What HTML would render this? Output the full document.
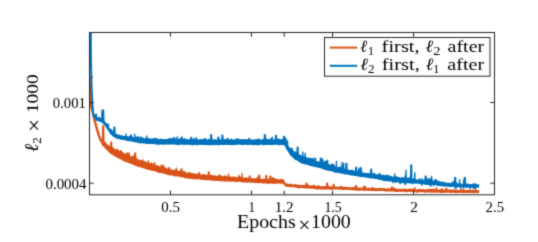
<!DOCTYPE html>
<html><head><meta charset="utf-8"><style>
html,body{margin:0;padding:0;background:#fff;}
svg{display:block;}
text{font-family:'Liberation Serif', 'DejaVu Serif', serif;fill:#000;}
</style></head><body>
<svg width="538" height="242" viewBox="0 0 538 242">
<defs><filter id="bl" x="0" y="0" width="538" height="242" filterUnits="userSpaceOnUse" color-interpolation-filters="sRGB"><feConvolveMatrix order="3" kernelMatrix="0.03 0.1 0.03 0.1 0.48 0.1 0.03 0.1 0.03" edgeMode="duplicate"/></filter></defs>
<g filter="url(#bl)">
<rect width="538" height="242" fill="#fff"/>
<defs><clipPath id="c"><rect x="89.5" y="32.5" width="405.0" height="162.3"/></clipPath></defs>
<g clip-path="url(#c)" fill="none" stroke-linejoin="round" stroke-linecap="butt">
<path d="M92.60,75.80 L90.30,78.00 L90.40,100.00 L91.20,106.00 L92.50,111.50 L94.00,118.00 L95.60,124.00 L97.00,129.20 L98.50,134.30 L100.00,138.60 L101.50,141.40 L103.00,143.40" stroke="#D95319" stroke-width="2.4"/>
<path d="M102.00,139.77 L102.40,144.96 L102.80,125.65 L103.20,145.75 L103.60,125.85 L104.00,146.34 L104.40,141.72 L104.80,147.23 L105.20,142.46 L105.60,148.13 L106.00,143.43 L106.40,148.88 L106.80,144.28 L107.20,149.62 L107.60,145.32 L108.00,150.57 L108.40,145.93 L108.80,151.49 L109.20,146.37 L109.60,152.28 L110.00,147.40 L110.40,152.82 L110.80,142.30 L111.20,153.38 L111.60,141.92 L112.00,154.03 L112.40,147.49 L112.80,154.52 L113.20,148.23 L113.60,154.94 L114.00,149.27 L114.40,155.35 L114.80,149.65 L115.20,155.92 L115.60,149.93 L116.00,156.34 L116.40,149.98 L116.80,156.77 L117.20,149.14 L117.60,157.31 L118.00,150.26 L118.40,157.72 L118.80,151.36 L119.20,158.07 L119.60,151.97 L120.00,158.47 L120.40,150.36 L120.80,158.78 L121.20,150.80 L121.60,159.22 L122.00,152.30 L122.40,159.74 L122.80,152.88 L123.20,160.09 L123.60,153.92 L124.00,160.56 L124.40,153.62 L124.80,161.05 L125.20,153.80 L125.60,161.25 L126.00,154.98 L126.40,161.34 L126.80,153.44 L127.20,161.81 L127.60,152.82 L128.00,162.20 L128.40,154.83 L128.80,162.45 L129.20,152.96 L129.60,162.78 L130.00,156.19 L130.40,163.02 L130.80,156.85 L131.20,163.40 L131.60,156.75 L132.00,163.70 L132.40,156.56 L132.80,163.88 L133.20,157.06 L133.60,164.31 L134.00,155.61 L134.40,164.83 L134.80,153.06 L135.20,165.15 L135.60,152.80 L136.00,165.35 L136.40,158.51 L136.80,165.76 L137.20,159.44 L137.60,166.02 L138.00,159.84 L138.40,166.07 L138.80,160.02 L139.20,166.21 L139.60,160.40 L140.00,166.56 L140.40,160.93 L140.80,166.86 L141.20,160.66 L141.60,167.02 L142.00,160.61 L142.40,167.24 L142.80,159.68 L143.20,167.47 L143.60,161.56 L144.00,167.87 L144.40,162.30 L144.80,168.22 L145.20,161.55 L145.60,168.38 L146.00,162.59 L146.40,168.66 L146.80,162.91 L147.20,169.03 L147.60,163.17 L148.00,169.32 L148.40,160.60 L148.80,169.37 L149.20,163.47 L149.60,169.43 L150.00,163.65 L150.40,169.67 L150.80,164.00 L151.20,169.94 L151.60,162.85 L152.00,170.09 L152.40,164.69 L152.80,170.30 L153.20,163.96 L153.60,170.43 L154.00,164.05 L154.40,170.58 L154.80,162.58 L155.20,170.66 L155.60,165.78 L156.00,171.00 L156.40,165.69 L156.80,171.38 L157.20,165.84 L157.60,171.79 L158.00,165.82 L158.40,172.20 L158.80,166.65 L159.20,172.25 L159.60,166.95 L160.00,172.35 L160.40,166.96 L160.80,172.44 L161.20,165.05 L161.60,172.38 L162.00,165.05 L162.40,172.51 L162.80,167.53 L163.20,172.77 L163.60,165.05 L164.00,173.11 L164.40,167.77 L164.80,173.32 L165.20,167.79 L165.60,173.53 L166.00,168.46 L166.40,173.84 L166.80,169.06 L167.20,174.19 L167.60,169.17 L168.00,174.47 L168.40,167.65 L168.80,174.67 L169.20,167.65 L169.60,174.67 L170.00,168.90 L170.40,174.75 L170.80,169.96 L171.20,174.78 L171.60,170.16 L172.00,174.75 L172.40,170.17 L172.80,174.88 L173.20,170.43 L173.60,175.42 L174.00,170.66 L174.40,175.72 L174.80,170.45 L175.20,175.81 L175.60,169.61 L176.00,175.88 L176.40,168.25 L176.80,175.78 L177.20,170.97 L177.60,175.71 L178.00,171.06 L178.40,175.85 L178.80,171.33 L179.20,176.18 L179.60,171.23 L180.00,176.44 L180.40,171.31 L180.80,176.54 L181.20,168.86 L181.60,176.64 L182.00,168.94 L182.40,176.75 L182.80,172.32 L183.20,176.81 L183.60,171.66 L184.00,177.15 L184.40,171.41 L184.80,177.55 L185.20,172.28 L185.60,177.73 L186.00,173.22 L186.40,177.72 L186.80,173.46 L187.20,177.77 L187.60,173.45 L188.00,178.07 L188.40,172.88 L188.80,178.05 L189.20,172.75 L189.60,177.97 L190.00,173.17 L190.40,178.18 L190.80,173.18 L191.20,178.22 L191.60,173.67 L192.00,178.31 L192.40,173.91 L192.80,178.44 L193.20,173.61 L193.60,178.64 L194.00,173.88 L194.40,178.80 L194.80,174.14 L195.20,178.78 L195.60,174.05 L196.00,178.64 L196.40,174.40 L196.80,178.61 L197.20,174.19 L197.60,178.79 L198.00,174.55 L198.40,178.89 L198.80,172.95 L199.20,178.72 L199.60,172.95 L200.00,178.78 L200.40,174.94 L200.80,179.03 L201.20,175.07 L201.60,179.18 L202.00,174.99 L202.40,179.16 L202.80,174.58 L203.20,179.22 L203.60,174.75 L204.00,179.40 L204.40,175.04 L204.80,179.63 L205.20,174.91 L205.60,179.60 L206.00,175.15 L206.40,179.43 L206.80,175.50 L207.20,179.55 L207.60,175.30 L208.00,179.63 L208.40,171.88 L208.80,179.61 L209.20,172.33 L209.60,179.65 L210.00,175.46 L210.40,179.90 L210.80,175.68 L211.20,179.97 L211.60,175.66 L212.00,180.10 L212.40,175.20 L212.80,180.14 L213.20,176.15 L213.60,180.07 L214.00,175.91 L214.40,180.05 L214.80,176.04 L215.20,180.17 L215.60,176.00 L216.00,180.36 L216.40,176.33 L216.80,180.40 L217.20,176.36 L217.60,180.42 L218.00,176.44 L218.40,180.40 L218.80,175.39 L219.20,180.49 L219.60,175.81 L220.00,180.57 L220.40,174.86 L220.80,180.62 L221.20,176.72 L221.60,180.52 L222.00,176.74 L222.40,180.47 L222.80,176.78 L223.20,180.60 L223.60,176.67 L224.00,180.96 L224.40,175.90 L224.80,180.97 L225.20,176.09 L225.60,180.83 L226.00,176.50 L226.40,180.87 L226.80,177.05 L227.20,180.92 L227.60,176.81 L228.00,180.90 L228.40,173.83 L228.80,180.87 L229.20,176.80 L229.60,181.03 L230.00,177.26 L230.40,181.06 L230.80,177.07 L231.20,180.89 L231.60,177.49 L232.00,180.86 L232.40,177.58 L232.80,180.95 L233.20,176.85 L233.60,180.99 L234.00,177.11 L234.40,181.10 L234.80,177.50 L235.20,181.28 L235.60,177.72 L236.00,181.37 L236.40,177.76 L236.80,181.19 L237.20,177.84 L237.60,181.24 L238.00,177.82 L238.40,181.28 L238.80,175.23 L239.20,181.10 L239.60,177.01 L240.00,181.23 L240.40,177.43 L240.80,181.47 L241.20,177.99 L241.60,181.59 L242.00,173.46 L242.40,181.70 L242.80,177.82 L243.20,181.83 L243.60,178.20 L244.00,181.90 L244.40,178.19 L244.80,181.79 L245.20,177.92 L245.60,181.73 L246.00,178.16 L246.40,181.85 L246.80,178.28 L247.20,182.02 L247.60,178.13 L248.00,181.99 L248.40,178.62 L248.80,181.89 L249.20,176.25 L249.60,181.91 L250.00,176.02 L250.40,182.10 L250.80,178.57 L251.20,182.05 L251.60,178.54 L252.00,182.06 L252.40,178.60 L252.80,182.11 L253.20,178.82 L253.60,182.00 L254.00,178.97 L254.40,182.23 L254.80,178.97 L255.20,182.51 L255.60,179.02 L256.00,182.40 L256.40,179.03 L256.80,182.26 L257.20,177.51 L257.60,182.50 L258.00,178.77 L258.40,182.67 L258.80,174.93 L259.20,182.70 L259.60,175.52 L260.00,182.45 L260.40,179.00 L260.80,182.32 L261.20,179.38 L261.60,182.65 L262.00,179.54 L262.40,182.94 L262.80,179.28 L263.20,182.80 L263.60,179.02 L264.00,182.85 L264.40,179.34 L264.80,182.93 L265.20,179.41 L265.60,182.90 L266.00,175.37 L266.40,182.91 L266.80,175.74 L267.20,183.01 L267.60,179.79 L268.00,183.27 L268.40,179.35 L268.80,183.24 L269.20,179.29 L269.60,182.97 L270.00,176.15 L270.40,182.85 L270.80,176.23 L271.20,182.97 L271.60,178.82 L272.00,183.24 L272.40,177.85 L272.80,183.14 L273.20,177.85 L273.60,183.06 L274.00,178.67 L274.40,183.12 L274.80,178.57 L275.20,183.12 L275.60,179.80 L276.00,183.17 L276.40,179.49 L276.80,183.10 L277.20,179.93 L277.60,182.93 L278.00,179.72 L278.40,182.99 L278.80,179.95 L279.20,182.94 L279.60,179.98 L280.00,183.05 L280.40,179.68 L280.80,183.15 L281.20,179.54 L281.60,183.08 L282.00,179.53 L282.40,183.04 L282.80,179.97 L283.20,183.17 L283.60,180.25 L284.00,183.97 L284.40,181.94 L284.80,184.98 L285.20,183.59 L285.60,185.81 L286.00,183.94 L286.40,185.94 L286.80,184.02 L287.20,186.09 L287.60,184.46 L288.00,186.26 L288.40,184.59 L288.80,186.22 L289.20,184.67 L289.60,186.36 L290.00,184.32 L290.40,186.55 L290.80,184.02 L291.20,186.59 L291.60,184.73 L292.00,186.46 L292.40,185.03 L292.80,186.53 L293.20,184.90 L293.60,186.67 L294.00,184.94 L294.40,186.74 L294.80,184.80 L295.20,186.86 L295.60,184.73 L296.00,187.08 L296.40,185.28 L296.80,187.27 L297.20,185.03 L297.60,187.32 L298.00,185.28 L298.40,187.55 L298.80,185.28 L299.20,187.65 L299.60,185.53 L300.00,187.64 L300.40,185.49 L300.80,187.51 L301.20,185.44 L301.60,187.29 L302.00,185.71 L302.40,187.44 L302.80,185.67 L303.20,187.54 L303.60,185.50 L304.00,187.74 L304.40,185.60 L304.80,187.69 L305.20,185.59 L305.60,187.70 L306.00,183.05 L306.40,187.89 L306.80,183.05 L307.20,187.99 L307.60,184.87 L308.00,187.72 L308.40,185.67 L308.80,187.84 L309.20,186.06 L309.60,188.12 L310.00,185.94 L310.40,188.12 L310.80,185.86 L311.20,187.99 L311.60,186.10 L312.00,188.08 L312.40,185.84 L312.80,188.19 L313.20,186.24 L313.60,188.18 L314.00,185.05 L314.40,188.31 L314.80,186.25 L315.20,188.48 L315.60,186.44 L316.00,188.55 L316.40,186.46 L316.80,188.80 L317.20,186.21 L317.60,188.77 L318.00,186.22 L318.40,188.57 L318.80,185.91 L319.20,188.65 L319.60,186.36 L320.00,188.82 L320.40,186.66 L320.80,188.80 L321.20,186.87 L321.60,188.86 L322.00,186.81 L322.40,188.84 L322.80,186.71 L323.20,188.72 L323.60,186.95 L324.00,188.96 L324.40,186.68 L324.80,188.97 L325.20,186.83 L325.60,188.78 L326.00,186.61 L326.40,188.82 L326.80,183.25 L327.20,188.87 L327.60,183.25 L328.00,188.87 L328.40,186.42 L328.80,188.82 L329.20,186.56 L329.60,188.91 L330.00,186.89 L330.40,188.99 L330.80,186.94 L331.20,189.11 L331.60,187.03 L332.00,189.09 L332.40,187.05 L332.80,188.99 L333.20,184.45 L333.60,188.91 L334.00,184.45 L334.40,188.92 L334.80,187.15 L335.20,188.85 L335.60,187.22 L336.00,188.77 L336.40,187.33 L336.80,188.80 L337.20,187.17 L337.60,188.91 L338.00,187.08 L338.40,188.89 L338.80,187.06 L339.20,189.06 L339.60,187.41 L340.00,189.14 L340.40,186.45 L340.80,189.11 L341.20,186.45 L341.60,189.20 L342.00,187.28 L342.40,189.15 L342.80,187.09 L343.20,189.33 L343.60,187.13 L344.00,189.39 L344.40,187.20 L344.80,189.20 L345.20,187.49 L345.60,189.15 L346.00,187.60 L346.40,189.16 L346.80,187.29 L347.20,189.26 L347.60,187.69 L348.00,189.34 L348.40,187.58 L348.80,189.25 L349.20,187.82 L349.60,189.27 L350.00,187.84 L350.40,189.31 L350.80,187.76 L351.20,189.51 L351.60,187.94 L352.00,189.63 L352.40,188.00 L352.80,189.58 L353.20,187.31 L353.60,189.60 L354.00,187.35 L354.40,189.75 L354.80,188.08 L355.20,189.88 L355.60,185.55 L356.00,190.10 L356.40,185.55 L356.80,190.17 L357.20,188.05 L357.60,190.17 L358.00,188.16 L358.40,190.15 L358.80,187.77 L359.20,190.23 L359.60,188.18 L360.00,190.20 L360.40,188.25 L360.80,190.04 L361.20,188.29 L361.60,189.94 L362.00,188.28 L362.40,189.82 L362.80,188.15 L363.20,189.96 L363.60,186.45 L364.00,190.27 L364.40,186.45 L364.80,190.40 L365.20,186.45 L365.60,190.12 L366.00,188.54 L366.40,189.96 L366.80,188.46 L367.20,190.01 L367.60,188.26 L368.00,190.21 L368.40,188.27 L368.80,190.25 L369.20,188.51 L369.60,190.13 L370.00,188.66 L370.40,190.16 L370.80,188.36 L371.20,190.42 L371.60,188.07 L372.00,190.43 L372.40,187.51 L372.80,190.42 L373.20,187.93 L373.60,190.43 L374.00,188.82 L374.40,190.43 L374.80,188.58 L375.20,190.50 L375.60,188.31 L376.00,190.50 L376.40,188.76 L376.80,190.47 L377.20,188.85 L377.60,190.43 L378.00,188.72 L378.40,190.30 L378.80,188.54 L379.20,190.31 L379.60,188.35 L380.00,190.49 L380.40,188.66 L380.80,190.40 L381.20,188.86 L381.60,190.22 L382.00,188.67 L382.40,190.17 L382.80,188.75 L383.20,190.27 L383.60,188.53 L384.00,190.56 L384.40,188.64 L384.80,190.73 L385.20,189.01 L385.60,190.81 L386.00,189.00 L386.40,190.87 L386.80,189.12 L387.20,190.90 L387.60,189.14 L388.00,190.90 L388.40,188.96 L388.80,190.82 L389.20,189.27 L389.60,190.79 L390.00,188.97 L390.40,190.73 L390.80,188.95 L391.20,190.81 L391.60,186.95 L392.00,190.89 L392.40,186.95 L392.80,190.86 L393.20,189.14 L393.60,190.97 L394.00,188.19 L394.40,191.21 L394.80,188.34 L395.20,191.25 L395.60,189.12 L396.00,191.26 L396.40,189.39 L396.80,191.36 L397.20,189.30 L397.60,191.42 L398.00,189.33 L398.40,191.26 L398.80,189.37 L399.20,191.17 L399.60,189.54 L400.00,191.22 L400.40,189.40 L400.80,191.26 L401.20,189.52 L401.60,191.18 L402.00,189.55 L402.40,191.14 L402.80,189.31 L403.20,191.05 L403.60,189.10 L404.00,191.16 L404.40,189.16 L404.80,191.49 L405.20,189.48 L405.60,191.65 L406.00,189.44 L406.40,191.60 L406.80,189.48 L407.20,191.46 L407.60,189.59 L408.00,191.35 L408.40,189.71 L408.80,191.23 L409.20,189.29 L409.60,191.20 L410.00,189.26 L410.40,191.32 L410.80,189.15 L411.20,191.46 L411.60,189.45 L412.00,191.45 L412.40,189.23 L412.80,191.21 L413.20,189.23 L413.60,191.04 L414.00,189.69 L414.40,191.30 L414.80,187.65 L415.20,191.58 L415.60,189.71 L416.00,191.83 L416.40,189.85 L416.80,192.04 L417.20,189.80 L417.60,192.00 L418.00,189.91 L418.40,191.72 L418.80,189.69 L419.20,191.52 L419.60,189.48 L420.00,191.60 L420.40,189.73 L420.80,191.73 L421.20,189.90 L421.60,191.67 L422.00,189.76 L422.40,191.62 L422.80,189.90 L423.20,191.51 L423.60,189.77 L424.00,191.70 L424.40,190.01 L424.80,192.15 L425.20,190.05 L425.60,192.20 L426.00,189.81 L426.40,191.88 L426.80,189.69 L427.20,191.67 L427.60,189.79 L428.00,191.88 L428.40,189.97 L428.80,192.12 L429.20,189.44 L429.60,191.95 L430.00,189.27 L430.40,191.91 L430.80,189.61 L431.20,192.20 L431.60,189.05 L432.00,192.14 L432.40,189.84 L432.80,191.98 L433.20,189.66 L433.60,191.98 L434.00,189.02 L434.40,192.10 L434.80,190.20 L435.20,192.02 L435.60,189.90 L436.00,191.98 L436.40,187.65 L436.80,192.03 L437.20,189.72 L437.60,191.99 L438.00,190.05 L438.40,191.96 L438.80,190.23 L439.20,192.23 L439.60,190.31 L440.00,192.44 L440.40,190.00 L440.80,192.43 L441.20,189.92 L441.60,192.39 L442.00,188.65 L442.40,192.38 L442.80,190.12 L443.20,192.30 L443.60,189.90 L444.00,192.19 L444.40,190.10 L444.80,192.06 L445.20,190.15 L445.60,192.03 L446.00,188.44 L446.40,192.07 L446.80,188.32 L447.20,192.07 L447.60,190.19 L448.00,191.94 L448.40,190.39 L448.80,191.92 L449.20,189.90 L449.60,192.11 L450.00,190.01 L450.40,192.33 L450.80,190.42 L451.20,192.45 L451.60,190.24 L452.00,192.22 L452.40,190.24 L452.80,192.12 L453.20,190.23 L453.60,192.21 L454.00,189.82 L454.40,192.37 L454.80,189.89 L455.20,192.34 L455.60,190.50 L456.00,192.41 L456.40,190.37 L456.80,192.44 L457.20,190.34 L457.60,192.26 L458.00,190.37 L458.40,192.49 L458.80,190.51 L459.20,192.42 L459.60,190.55 L460.00,192.20 L460.40,190.37 L460.80,192.17 L461.20,188.60 L461.60,192.45 L462.00,190.65 L462.40,192.55 L462.80,190.65 L463.20,192.46 L463.60,188.65 L464.00,192.31 L464.40,190.58 L464.80,192.43 L465.20,190.61 L465.60,192.51 L466.00,190.36 L466.40,192.36 L466.80,190.52 L467.20,192.31 L467.60,190.55 L468.00,192.43 L468.40,190.34 L468.80,192.46 L469.20,190.13 L469.60,192.55 L470.00,190.48 L470.40,192.36 L470.80,190.57 L471.20,192.16 L471.60,190.66 L472.00,192.26 L472.40,190.11 L472.80,192.42 L473.20,190.40 L473.60,192.51 L474.00,190.48 L474.40,192.49 L474.80,190.61 L475.20,192.39 L475.60,187.82 L476.00,192.30 L476.40,190.69 L476.80,192.36 L477.20,190.55 L477.60,192.47 L478.00,190.60 L478.40,192.43 L478.80,190.44" stroke="#D95319" stroke-width="1.3"/>
<path d="M90.70,20.00 L90.90,60.00 L91.50,85.00 L92.20,100.00 L92.70,108.00 L93.00,112.00 L93.60,115.00 L94.50,117.00 L95.80,118.40" stroke="#0072BD" stroke-width="2"/>
<path d="M95.60,113.85 L96.00,119.79 L96.40,114.15 L96.80,120.20 L97.20,118.04 L97.60,120.45 L98.00,118.00 L98.40,120.71 L98.80,117.49 L99.20,120.90 L99.60,117.74 L100.00,121.13 L100.40,118.61 L100.80,121.48 L101.20,119.06 L101.60,121.94 L102.00,110.05 L102.40,122.15 L102.80,110.05 L103.20,123.06 L103.60,110.05 L104.00,124.14 L104.40,121.35 L104.80,125.05 L105.20,122.65 L105.60,125.99 L106.00,123.63 L106.40,127.22 L106.80,123.56 L107.20,128.52 L107.60,124.69 L108.00,129.68 L108.40,124.22 L108.80,130.70 L109.20,128.76 L109.60,131.97 L110.00,129.97 L110.40,133.23 L110.80,129.24 L111.20,134.00 L111.60,130.08 L112.00,134.74 L112.40,132.40 L112.80,135.64 L113.20,130.97 L113.60,136.32 L114.00,127.05 L114.40,136.64 L114.80,127.05 L115.20,137.08 L115.60,134.43 L116.00,137.66 L116.40,134.49 L116.80,138.07 L117.20,134.65 L117.60,138.20 L118.00,135.29 L118.40,138.35 L118.80,135.44 L119.20,138.44 L119.60,135.21 L120.00,138.85 L120.40,135.58 L120.80,139.08 L121.20,135.80 L121.60,139.01 L122.00,136.12 L122.40,139.22 L122.80,136.26 L123.20,139.45 L123.60,136.37 L124.00,139.65 L124.40,136.59 L124.80,139.55 L125.20,136.44 L125.60,139.59 L126.00,133.92 L126.40,139.96 L126.80,136.66 L127.20,140.41 L127.60,136.72 L128.00,140.61 L128.40,136.93 L128.80,140.64 L129.20,137.20 L129.60,140.63 L130.00,136.41 L130.40,140.63 L130.80,134.81 L131.20,140.74 L131.60,135.11 L132.00,140.84 L132.40,137.65 L132.80,141.17 L133.20,137.67 L133.60,141.42 L134.00,137.91 L134.40,141.48 L134.80,134.03 L135.20,141.52 L135.60,137.90 L136.00,141.74 L136.40,137.96 L136.80,141.89 L137.20,136.65 L137.60,142.14 L138.00,136.65 L138.40,142.47 L138.80,138.23 L139.20,142.69 L139.60,138.19 L140.00,142.80 L140.40,137.05 L140.80,142.88 L141.20,137.05 L141.60,142.70 L142.00,137.83 L142.40,142.69 L142.80,138.19 L143.20,142.79 L143.60,138.62 L144.00,142.76 L144.40,138.78 L144.80,142.81 L145.20,138.49 L145.60,143.05 L146.00,138.62 L146.40,143.27 L146.80,135.85 L147.20,143.29 L147.60,138.95 L148.00,143.28 L148.40,138.75 L148.80,143.36 L149.20,138.63 L149.60,143.45 L150.00,139.21 L150.40,143.38 L150.80,139.04 L151.20,143.38 L151.60,139.09 L152.00,143.49 L152.40,138.97 L152.80,143.36 L153.20,138.94 L153.60,143.24 L154.00,138.88 L154.40,143.55 L154.80,138.35 L155.20,143.71 L155.60,138.35 L156.00,143.76 L156.40,139.51 L156.80,143.98 L157.20,139.02 L157.60,144.19 L158.00,139.06 L158.40,144.24 L158.80,139.55 L159.20,144.04 L159.60,139.55 L160.00,143.87 L160.40,139.39 L160.80,143.81 L161.20,139.18 L161.60,143.96 L162.00,139.64 L162.40,144.11 L162.80,139.77 L163.20,144.01 L163.60,139.61 L164.00,144.05 L164.40,139.73 L164.80,143.91 L165.20,139.68 L165.60,143.74 L166.00,139.29 L166.40,143.88 L166.80,139.65 L167.20,143.91 L167.60,139.71 L168.00,143.98 L168.40,139.42 L168.80,143.92 L169.20,138.35 L169.60,143.79 L170.00,138.35 L170.40,143.87 L170.80,139.37 L171.20,143.90 L171.60,138.92 L172.00,143.95 L172.40,138.47 L172.80,143.97 L173.20,138.85 L173.60,143.91 L174.00,137.55 L174.40,143.86 L174.80,137.55 L175.20,144.01 L175.60,139.59 L176.00,144.22 L176.40,139.09 L176.80,144.29 L177.20,136.67 L177.60,144.43 L178.00,139.63 L178.40,144.39 L178.80,139.21 L179.20,144.20 L179.60,138.99 L180.00,144.07 L180.40,139.13 L180.80,143.98 L181.20,137.33 L181.60,143.91 L182.00,137.01 L182.40,144.14 L182.80,139.18 L183.20,144.30 L183.60,139.55 L184.00,144.17 L184.40,138.35 L184.80,144.19 L185.20,139.52 L185.60,144.35 L186.00,139.90 L186.40,144.20 L186.80,139.68 L187.20,143.92 L187.60,139.70 L188.00,144.05 L188.40,139.97 L188.80,144.22 L189.20,139.92 L189.60,144.29 L190.00,139.56 L190.40,144.26 L190.80,137.50 L191.20,144.25 L191.60,137.49 L192.00,144.48 L192.40,139.69 L192.80,144.65 L193.20,139.77 L193.60,144.55 L194.00,138.18 L194.40,144.27 L194.80,139.92 L195.20,144.28 L195.60,139.59 L196.00,144.33 L196.40,137.55 L196.80,144.37 L197.20,139.61 L197.60,144.52 L198.00,140.03 L198.40,144.53 L198.80,139.87 L199.20,144.28 L199.60,139.94 L200.00,144.07 L200.40,139.63 L200.80,144.22 L201.20,139.64 L201.60,144.37 L202.00,139.86 L202.40,144.37 L202.80,139.61 L203.20,144.33 L203.60,139.80 L204.00,144.30 L204.40,138.65 L204.80,144.34 L205.20,138.65 L205.60,144.29 L206.00,139.35 L206.40,144.33 L206.80,140.14 L207.20,144.40 L207.60,140.05 L208.00,144.55 L208.40,139.41 L208.80,144.59 L209.20,139.52 L209.60,144.49 L210.00,140.01 L210.40,144.54 L210.80,134.65 L211.20,144.55 L211.60,134.65 L212.00,144.37 L212.40,140.01 L212.80,144.45 L213.20,140.02 L213.60,144.62 L214.00,139.79 L214.40,144.64 L214.80,139.95 L215.20,144.36 L215.60,139.99 L216.00,144.11 L216.40,140.11 L216.80,144.32 L217.20,139.84 L217.60,144.56 L218.00,137.05 L218.40,144.66 L218.80,137.05 L219.20,144.48 L219.60,140.01 L220.00,144.35 L220.40,139.78 L220.80,144.35 L221.20,140.14 L221.60,144.35 L222.00,135.05 L222.40,144.26 L222.80,135.05 L223.20,144.36 L223.60,139.56 L224.00,144.41 L224.40,139.75 L224.80,144.34 L225.20,139.60 L225.60,144.34 L226.00,140.13 L226.40,144.19 L226.80,139.52 L227.20,144.18 L227.60,138.13 L228.00,144.47 L228.40,139.52 L228.80,144.43 L229.20,139.86 L229.60,144.52 L230.00,140.02 L230.40,144.46 L230.80,139.94 L231.20,144.39 L231.60,139.15 L232.00,144.71 L232.40,140.00 L232.80,144.64 L233.20,140.13 L233.60,144.41 L234.00,140.17 L234.40,144.32 L234.80,140.04 L235.20,144.41 L235.60,139.52 L236.00,144.44 L236.40,139.69 L236.80,144.23 L237.20,138.93 L237.60,144.12 L238.00,138.56 L238.40,144.02 L238.80,139.95 L239.20,143.95 L239.60,139.87 L240.00,143.95 L240.40,139.69 L240.80,144.26 L241.20,139.75 L241.60,144.42 L242.00,139.88 L242.40,144.32 L242.80,139.69 L243.20,144.39 L243.60,139.65 L244.00,144.40 L244.40,139.83 L244.80,144.19 L245.20,139.80 L245.60,144.20 L246.00,139.58 L246.40,144.19 L246.80,140.08 L247.20,144.31 L247.60,139.81 L248.00,144.38 L248.40,139.42 L248.80,144.29 L249.20,138.05 L249.60,144.20 L250.00,140.17 L250.40,144.14 L250.80,139.79 L251.20,144.24 L251.60,139.99 L252.00,144.44 L252.40,140.03 L252.80,144.47 L253.20,140.12 L253.60,144.56 L254.00,139.89 L254.40,144.53 L254.80,140.13 L255.20,144.30 L255.60,139.89 L256.00,144.23 L256.40,139.72 L256.80,144.52 L257.20,140.15 L257.60,144.66 L258.00,139.15 L258.40,144.67 L258.80,139.15 L259.20,144.60 L259.60,139.90 L260.00,144.20 L260.40,139.83 L260.80,143.96 L261.20,140.22 L261.60,144.07 L262.00,140.13 L262.40,144.32 L262.80,139.74 L263.20,144.61 L263.60,139.74 L264.00,144.57 L264.40,134.65 L264.80,144.38 L265.20,134.65 L265.60,144.28 L266.00,138.68 L266.40,144.19 L266.80,139.79 L267.20,144.33 L267.60,139.73 L268.00,144.35 L268.40,140.19 L268.80,144.17 L269.20,139.22 L269.60,144.32 L270.00,139.43 L270.40,144.63 L270.80,140.13 L271.20,144.47 L271.60,137.55 L272.00,144.43 L272.40,137.55 L272.80,144.46 L273.20,140.05 L273.60,144.37 L274.00,140.11 L274.40,144.14 L274.80,139.64 L275.20,144.04 L275.60,135.35 L276.00,144.13 L276.40,135.35 L276.80,144.23 L277.20,139.75 L277.60,144.16 L278.00,139.34 L278.40,144.28 L278.80,138.86 L279.20,144.58 L279.60,139.77 L280.00,144.52 L280.40,139.97 L280.80,144.38 L281.20,139.78 L281.60,144.27 L282.00,139.44 L282.40,144.46 L282.80,140.13 L283.20,144.44 L283.60,136.35 L284.00,144.69 L284.40,136.35 L284.80,145.07 L285.20,141.71 L285.60,146.48 L286.00,138.10 L286.40,148.18 L286.80,144.16 L287.20,149.66 L287.60,140.87 L288.00,150.84 L288.40,146.86 L288.80,151.94 L289.20,147.64 L289.60,153.26 L290.00,148.35 L290.40,154.38 L290.80,149.31 L291.20,155.37 L291.60,147.99 L292.00,156.16 L292.40,149.41 L292.80,156.90 L293.20,151.50 L293.60,157.50 L294.00,151.56 L294.40,158.40 L294.80,152.21 L295.20,159.25 L295.60,152.18 L296.00,159.48 L296.40,153.42 L296.80,159.68 L297.20,147.25 L297.60,160.13 L298.00,147.25 L298.40,160.77 L298.80,154.78 L299.20,161.31 L299.60,154.82 L300.00,161.88 L300.40,155.25 L300.80,162.42 L301.20,155.92 L301.60,162.75 L302.00,156.33 L302.40,162.95 L302.80,151.85 L303.20,163.23 L303.60,156.76 L304.00,163.49 L304.40,157.31 L304.80,163.78 L305.20,153.05 L305.60,163.91 L306.00,157.57 L306.40,163.95 L306.80,157.81 L307.20,164.09 L307.60,158.37 L308.00,164.43 L308.40,158.06 L308.80,164.79 L309.20,158.18 L309.60,165.23 L310.00,159.26 L310.40,165.42 L310.80,158.49 L311.20,165.44 L311.60,158.75 L312.00,165.56 L312.40,158.75 L312.80,165.84 L313.20,160.69 L313.60,166.05 L314.00,157.85 L314.40,166.22 L314.80,161.16 L315.20,166.39 L315.60,158.52 L316.00,166.60 L316.40,161.53 L316.80,166.79 L317.20,161.80 L317.60,166.94 L318.00,161.82 L318.40,167.20 L318.80,161.83 L319.20,167.34 L319.60,162.27 L320.00,167.43 L320.40,158.13 L320.80,167.52 L321.20,158.04 L321.60,167.87 L322.00,158.94 L322.40,168.27 L322.80,159.68 L323.20,168.57 L323.60,162.80 L324.00,169.02 L324.40,162.10 L324.80,169.20 L325.20,161.15 L325.60,169.40 L326.00,161.15 L326.40,169.68 L326.80,161.25 L327.20,169.77 L327.60,160.09 L328.00,170.00 L328.40,164.71 L328.80,170.17 L329.20,164.72 L329.60,170.31 L330.00,165.07 L330.40,170.59 L330.80,165.47 L331.20,170.62 L331.60,164.06 L332.00,170.68 L332.40,164.59 L332.80,171.03 L333.20,164.27 L333.60,171.45 L334.00,165.04 L334.40,171.76 L334.80,166.69 L335.20,171.99 L335.60,167.49 L336.00,172.05 L336.40,161.15 L336.80,172.11 L337.20,167.55 L337.60,172.15 L338.00,167.81 L338.40,172.23 L338.80,167.31 L339.20,172.44 L339.60,167.66 L340.00,172.61 L340.40,167.02 L340.80,172.86 L341.20,168.53 L341.60,173.03 L342.00,162.45 L342.40,173.20 L342.80,167.54 L343.20,173.43 L343.60,163.05 L344.00,173.58 L344.40,169.06 L344.80,173.73 L345.20,169.58 L345.60,173.83 L346.00,163.35 L346.40,173.76 L346.80,163.35 L347.20,173.79 L347.60,169.82 L348.00,174.01 L348.40,170.03 L348.80,174.29 L349.20,170.54 L349.60,174.53 L350.00,170.51 L350.40,174.74 L350.80,170.67 L351.20,174.96 L351.60,170.32 L352.00,174.92 L352.40,170.26 L352.80,174.98 L353.20,171.23 L353.60,175.16 L354.00,171.42 L354.40,175.28 L354.80,171.51 L355.20,175.37 L355.60,167.45 L356.00,175.37 L356.40,167.45 L356.80,175.63 L357.20,171.04 L357.60,175.80 L358.00,171.42 L358.40,175.83 L358.80,168.18 L359.20,176.14 L359.60,172.42 L360.00,176.45 L360.40,167.65 L360.80,176.52 L361.20,167.65 L361.60,176.40 L362.00,172.55 L362.40,176.36 L362.80,173.04 L363.20,176.42 L363.60,173.17 L364.00,176.57 L364.40,173.33 L364.80,176.73 L365.20,173.30 L365.60,176.86 L366.00,173.61 L366.40,176.91 L366.80,173.61 L367.20,177.10 L367.60,173.67 L368.00,177.22 L368.40,173.60 L368.80,177.35 L369.20,173.95 L369.60,177.63 L370.00,173.52 L370.40,177.85 L370.80,169.25 L371.20,177.87 L371.60,169.25 L372.00,177.69 L372.40,174.12 L372.80,177.75 L373.20,173.92 L373.60,178.04 L374.00,173.72 L374.40,178.16 L374.80,173.62 L375.20,178.26 L375.60,174.80 L376.00,178.38 L376.40,174.97 L376.80,178.47 L377.20,174.88 L377.60,178.71 L378.00,174.83 L378.40,179.06 L378.80,174.62 L379.20,179.09 L379.60,173.05 L380.00,179.15 L380.40,175.16 L380.80,179.35 L381.20,175.23 L381.60,179.57 L382.00,175.28 L382.40,179.84 L382.80,175.42 L383.20,180.12 L383.60,175.30 L384.00,180.31 L384.40,175.54 L384.80,180.46 L385.20,175.70 L385.60,180.52 L386.00,176.07 L386.40,180.47 L386.80,175.21 L387.20,180.54 L387.60,175.12 L388.00,180.72 L388.40,176.40 L388.80,180.82 L389.20,176.09 L389.60,180.78 L390.00,176.00 L390.40,180.92 L390.80,176.57 L391.20,180.93 L391.60,176.89 L392.00,181.05 L392.40,177.08 L392.80,182.59 L393.20,177.03 L393.60,181.34 L394.00,177.18 L394.40,181.48 L394.80,173.86 L395.20,182.45 L395.60,177.16 L396.00,181.63 L396.40,176.97 L396.80,181.64 L397.20,177.10 L397.60,181.91 L398.00,177.55 L398.40,181.92 L398.80,177.60 L399.20,182.07 L399.60,177.97 L400.00,183.52 L400.40,178.01 L400.80,183.46 L401.20,177.93 L401.60,181.98 L402.00,178.28 L402.40,182.26 L402.80,177.57 L403.20,182.54 L403.60,177.83 L404.00,182.57 L404.40,178.49 L404.80,184.22 L405.20,175.80 L405.60,184.32 L406.00,170.05 L406.40,182.64 L406.80,178.06 L407.20,182.64 L407.60,178.28 L408.00,182.64 L408.40,179.06 L408.80,182.60 L409.20,177.72 L409.60,182.79 L410.00,178.78 L410.40,182.96 L410.80,164.95 L411.20,182.92 L411.60,164.95 L412.00,183.71 L412.40,179.47 L412.80,183.10 L413.20,179.39 L413.60,182.98 L414.00,178.37 L414.40,182.91 L414.80,172.65 L415.20,182.98 L415.60,179.74 L416.00,182.98 L416.40,179.83 L416.80,182.93 L417.20,180.11 L417.60,183.08 L418.00,180.07 L418.40,183.17 L418.80,179.72 L419.20,183.26 L419.60,178.79 L420.00,183.42 L420.40,180.26 L420.80,183.56 L421.20,180.46 L421.60,185.22 L422.00,178.75 L422.40,183.85 L422.80,180.23 L423.20,183.93 L423.60,180.59 L424.00,183.93 L424.40,180.52 L424.80,183.99 L425.20,176.13 L425.60,184.20 L426.00,176.03 L426.40,184.35 L426.80,179.17 L427.20,184.31 L427.60,178.92 L428.00,184.24 L428.40,180.79 L428.80,184.38 L429.20,178.75 L429.60,184.38 L430.00,178.75 L430.40,186.21 L430.80,179.54 L431.20,185.70 L431.60,176.50 L432.00,184.33 L432.40,180.20 L432.80,184.47 L433.20,181.27 L433.60,185.74 L434.00,181.40 L434.40,184.69 L434.80,179.65 L435.20,184.65 L435.60,179.94 L436.00,184.69 L436.40,179.97 L436.80,184.94 L437.20,180.85 L437.60,185.28 L438.00,182.19 L438.40,185.36 L438.80,181.08 L439.20,185.28 L439.60,182.39 L440.00,185.47 L440.40,182.15 L440.80,185.61 L441.20,182.33 L441.60,185.71 L442.00,182.21 L442.40,185.72 L442.80,182.15 L443.20,185.74 L443.60,182.49 L444.00,185.83 L444.40,182.84 L444.80,185.94 L445.20,182.92 L445.60,185.98 L446.00,183.11 L446.40,186.03 L446.80,183.26 L447.20,185.97 L447.60,183.20 L448.00,185.97 L448.40,183.33 L448.80,186.26 L449.20,183.43 L449.60,186.26 L450.00,183.44 L450.40,186.28 L450.80,183.55 L451.20,186.40 L451.60,183.08 L452.00,186.31 L452.40,182.83 L452.80,186.20 L453.20,181.69 L453.60,186.13 L454.00,181.89 L454.40,186.25 L454.80,177.45 L455.20,188.05 L455.60,177.45 L456.00,188.38 L456.40,182.59 L456.80,186.74 L457.20,183.97 L457.60,186.68 L458.00,184.04 L458.40,186.60 L458.80,183.95 L459.20,186.64 L459.60,179.71 L460.00,186.75 L460.40,184.08 L460.80,188.47 L461.20,184.26 L461.60,186.65 L462.00,184.35 L462.40,186.63 L462.80,184.47 L463.20,187.53 L463.60,180.20 L464.00,186.94 L464.40,177.45 L464.80,187.15 L465.20,177.45 L465.60,187.15 L466.00,184.57 L466.40,187.12 L466.80,184.29 L467.20,187.08 L467.60,183.92 L468.00,187.19 L468.40,184.62 L468.80,187.19 L469.20,184.59 L469.60,187.09 L470.00,184.53 L470.40,188.73 L470.80,184.62 L471.20,187.20 L471.60,184.73 L472.00,187.17 L472.40,184.35 L472.80,186.98 L473.20,184.10 L473.60,188.44 L474.00,184.22 L474.40,188.26 L474.80,183.99 L475.20,187.09 L475.60,183.92 L476.00,187.25 L476.40,184.91 L476.80,187.20 L477.20,184.92 L477.60,187.20 L478.00,184.65 L478.40,187.21 L478.80,184.74" stroke="#0072BD" stroke-width="1.3"/>
</g>
<g fill="none" stroke="#262626" stroke-width="1">
<rect x="89.5" y="32.5" width="405.0" height="162.3"/>
<path d="M170.5,194.8V190.60000000000002M170.5,32.5V36.7M251.5,194.8V190.60000000000002M251.5,32.5V36.7M284.2,194.8V190.60000000000002M284.2,32.5V36.7M332.5,194.8V190.60000000000002M332.5,32.5V36.7M413.5,194.8V190.60000000000002M413.5,32.5V36.7M89.5,102.5H93.7M494.5,102.5H490.3M89.5,183.2H93.7M494.5,183.2H490.3"/>
</g>
<text x="161.23" y="211.50" font-size="15.6" textLength="18.65" lengthAdjust="spacingAndGlyphs">0.5</text>
<text x="248.45" y="211.50" font-size="15.6" textLength="6.53" lengthAdjust="spacingAndGlyphs">1</text>
<text x="274.67" y="211.50" font-size="15.6" textLength="18.86" lengthAdjust="spacingAndGlyphs">1.2</text>
<text x="324.39" y="211.50" font-size="15.6" textLength="17.25" lengthAdjust="spacingAndGlyphs">1.5</text>
<text x="409.90" y="211.50" font-size="15.6" textLength="7.98" lengthAdjust="spacingAndGlyphs">2</text>
<text x="485.55" y="211.50" font-size="15.6" textLength="18.53" lengthAdjust="spacingAndGlyphs">2.5</text>
<text x="52.84" y="107.90" font-size="15.6" textLength="33.04" lengthAdjust="spacingAndGlyphs">0.001</text>
<text x="45.43" y="188.70" font-size="15.6" textLength="41.10" lengthAdjust="spacingAndGlyphs">0.0004</text>
<text x="237.03" y="228.40" font-size="18.3" textLength="58.69" lengthAdjust="spacingAndGlyphs">Epochs</text>
<text x="298.53" y="231.60" font-size="22" textLength="11.92" lengthAdjust="spacingAndGlyphs">×</text>
<text x="311.06" y="228.40" font-size="18.3" textLength="39.70" lengthAdjust="spacingAndGlyphs">1000</text>
<g transform="rotate(-90)">
<text x="-151.90" y="38.00" font-size="19.5" font-style="italic" textLength="8.09" lengthAdjust="spacingAndGlyphs">ℓ</text>
<text x="-143.77" y="40.80" font-size="12.8" textLength="6.49" lengthAdjust="spacingAndGlyphs">2</text>
<text x="-131.89" y="40.60" font-size="22" textLength="12.76" lengthAdjust="spacingAndGlyphs">×</text>
<text x="-113.10" y="38.40" font-size="17.5" textLength="38.63" lengthAdjust="spacingAndGlyphs">1000</text>
</g>
<rect x="324.5" y="37.5" width="165.5" height="38.7" fill="#fff" stroke="#262626" stroke-width="1"/>
<path d="M329.8,47.6H357.2" stroke="#D95319" stroke-width="2"/>
<path d="M329.8,65.8H357.2" stroke="#0072BD" stroke-width="2"/>
<text x="360.35" y="52.20" font-size="17" font-style="italic" textLength="7.03" lengthAdjust="spacingAndGlyphs">ℓ</text>
<text x="367.95" y="54.80" font-size="11.5" textLength="5.97" lengthAdjust="spacingAndGlyphs">1</text>
<text x="381.57" y="52.20" font-size="17" textLength="38.12" lengthAdjust="spacingAndGlyphs">first,</text>
<text x="425.62" y="52.20" font-size="17" font-style="italic" textLength="7.67" lengthAdjust="spacingAndGlyphs">ℓ</text>
<text x="433.26" y="54.80" font-size="11.5" textLength="7.23" lengthAdjust="spacingAndGlyphs">2</text>
<text x="447.60" y="52.20" font-size="17" textLength="36.58" lengthAdjust="spacingAndGlyphs">after</text>
<text x="360.22" y="70.00" font-size="17" font-style="italic" textLength="7.77" lengthAdjust="spacingAndGlyphs">ℓ</text>
<text x="368.03" y="72.60" font-size="11.5" textLength="6.49" lengthAdjust="spacingAndGlyphs">2</text>
<text x="381.77" y="70.00" font-size="17" textLength="38.02" lengthAdjust="spacingAndGlyphs">first,</text>
<text x="425.72" y="70.00" font-size="17" font-style="italic" textLength="7.67" lengthAdjust="spacingAndGlyphs">ℓ</text>
<text x="433.35" y="72.60" font-size="11.5" textLength="5.97" lengthAdjust="spacingAndGlyphs">1</text>
<text x="447.29" y="70.00" font-size="17" textLength="36.89" lengthAdjust="spacingAndGlyphs">after</text>
</g>
</svg>
</body></html>
